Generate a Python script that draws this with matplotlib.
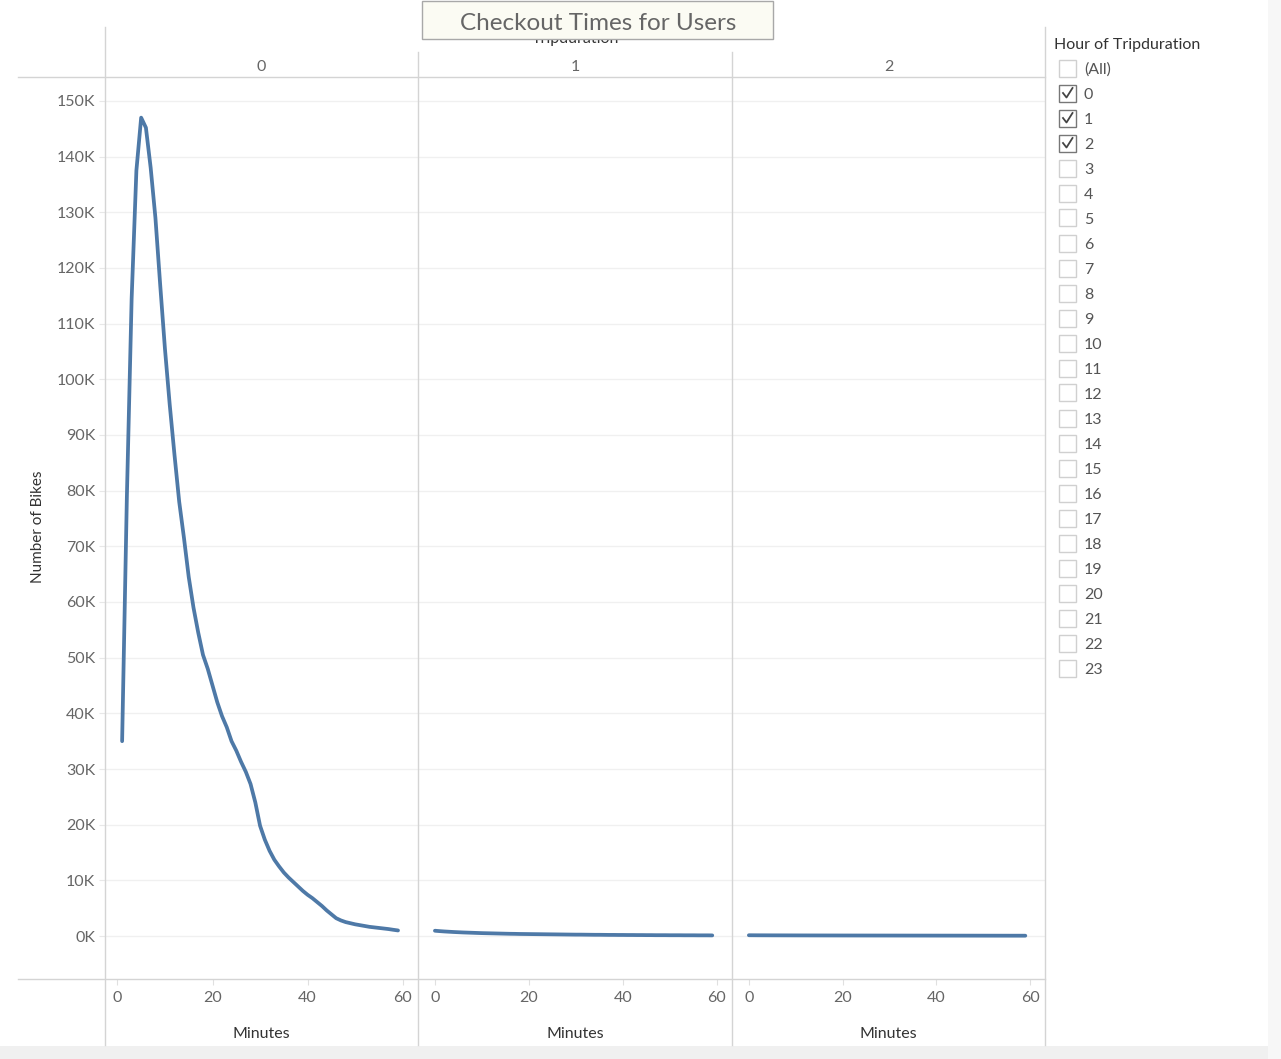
import matplotlib
matplotlib.use("Agg")
import matplotlib.pyplot as plt
from matplotlib.lines import Line2D
from matplotlib.patches import Rectangle
from matplotlib.ticker import FuncFormatter

plt.rcParams['font.family'] = ['Lato', 'DejaVu Sans']

# ---------------- data ----------------
panel_labels = ["0", "1", "2"]
minutes_h0 = list(range(1, 60))
bikes_h0 = [35000, 79000, 114500, 137500, 147000, 145200, 138000, 129000, 117000, 105500,
            95500, 86500, 78000, 71500, 64500, 59000, 54500, 50500, 48000, 45000,
            42000, 39500, 37500, 35000, 33300, 31300, 29500, 27300, 24000, 19800,
            17300, 15300, 13700, 12500, 11400, 10500, 9700, 8900, 8100, 7400,
            6800, 6100, 5400, 4600, 3900, 3200, 2800, 2500, 2300, 2100,
            1950, 1800, 1650, 1550, 1450, 1350, 1250, 1120, 1000]
minutes_h1 = list(range(0, 60))
bikes_h1 = [950, 880, 820, 770, 720, 680, 640, 610, 580, 550,
            520, 500, 480, 460, 440, 420, 400, 390, 370, 360,
            350, 340, 330, 320, 310, 300, 290, 280, 270, 260,
            250, 250, 240, 230, 220, 220, 210, 200, 200, 190,
            190, 180, 180, 170, 170, 160, 160, 150, 150, 150,
            140, 140, 140, 130, 130, 130, 120, 120, 120, 110]
minutes_h2 = list(range(0, 60))
bikes_h2 = [140, 135, 130, 128, 125, 122, 120, 118, 116, 114,
            112, 110, 108, 106, 105, 103, 102, 100, 99, 98,
            96, 95, 94, 93, 92, 91, 90, 89, 88, 87,
            86, 85, 84, 83, 82, 81, 80, 79, 78, 77,
            76, 75, 74, 73, 72, 71, 70, 69, 68, 67,
            66, 65, 64, 63, 62, 61, 60, 60, 59, 58]
series = [(minutes_h0, bikes_h0), (minutes_h1, bikes_h1), (minutes_h2, bikes_h2)]
x_ticks = [0, 20, 40, 60]
y_ticks = list(range(0, 150001, 10000))
legend_items = ["(All)"] + [str(h) for h in range(24)]
checked = {"0", "1", "2"}

# ---------------- layout ----------------
W, H = 1281, 1059
fig = plt.figure(figsize=(W / 100, H / 100), dpi=100)
fig.patch.set_facecolor("white")

def fx(x):
    return x / W

def fy(y):
    return 1 - y / H

def hline(y, x0, x1, color="#d4d4d4", lw=1.0, z=1):
    fig.add_artist(Line2D([fx(x0), fx(x1)], [fy(y), fy(y)], transform=fig.transFigure,
                          color=color, lw=lw, zorder=z))

def vline(x, y0, y1, color="#d4d4d4", lw=1.0, z=1):
    fig.add_artist(Line2D([fx(x), fx(x)], [fy(y0), fy(y1)], transform=fig.transFigure,
                          color=color, lw=lw, zorder=z))

lefts = [105, 418, 732]
rights = [418, 732, 1045]
xlims = [(-2.6, 63.2), (-3.6, 63.2), (-3.6, 63.2)]
top, bottom = 77, 979
tick_col = "#666666"
line_col = "#4e79a7"
dy = 2  # baseline correction for Lato

kfmt = FuncFormatter(lambda v, p: f"{v/1000:.0f}K")

for i, (l, r) in enumerate(zip(lefts, rights)):
    ax = fig.add_axes([fx(l), fy(bottom), (r - l) / W, (bottom - top) / H])
    ax.set_facecolor("none")
    for s in ax.spines.values():
        s.set_visible(False)
    ax.set_xlim(*xlims[i])
    ax.set_ylim(-7720, 154300)
    ax.set_yticks(y_ticks)
    ax.yaxis.set_major_formatter(kfmt)
    ax.set_xticks(x_ticks)
    ax.grid(axis="y", color="#f0f0f0", lw=1.0)
    ax.set_axisbelow(True)
    ax.tick_params(axis="x", length=4, color="#e0e0e0", labelcolor=tick_col,
                   labelsize=11.5, pad=5)
    if i == 0:
        ax.tick_params(axis="y", length=4, color="#e8e8e8", labelcolor=tick_col,
                       labelsize=11.5, pad=3)
    else:
        ax.tick_params(axis="y", length=0, labelleft=False)
    xs, ys = series[i]
    ax.plot(xs, ys, color=line_col, lw=2.7, solid_capstyle="round",
            solid_joinstyle="round", zorder=3)
    cx = (l + r) / 2
    fig.text(fx(cx), fy(1032 + dy), "Minutes", ha="center", va="center",
             fontsize=11.5, color="#333333")
    fig.text(fx(cx), fy(65 + dy), panel_labels[i], ha="center", va="center",
             fontsize=11.5, color=tick_col)

# frame lines
hline(77, 18, 1045)
hline(979, 18, 1045)
vline(105, 27, 1045)
vline(418, 52, 1045)
vline(732, 52, 1045)
vline(1045, 27, 1045)

# y axis title
fig.text(fx(38), fy(527), "Number of Bikes", rotation=90, ha="center", va="center",
         fontsize=11, color="#333333")

# column header title (partially covered by the title box)
fig.text(fx(575), fy(37 + dy), "Tripduration", ha="center", va="center",
         fontsize=11.5, color="#333333", zorder=2)

# title box
fig.add_artist(Rectangle((fx(422), fy(39)), (773 - 422) / W, (39 - 1) / H,
                         transform=fig.transFigure, facecolor="#fbfbf3",
                         edgecolor="#a8a8a8", lw=1.0, zorder=5))
fig.text(fx(598), fy(21 + dy), "Checkout Times for Users", ha="center", va="center",
         fontsize=17.5, color="#666666", zorder=6)

# legend (filter)
fig.text(fx(1054), fy(43 + dy), "Hour of Tripduration", ha="left", va="center",
         fontsize=11.5, color="#333333")
for j, lab in enumerate(legend_items):
    yc = 68 + 25 * j
    is_on = lab in checked
    fig.add_artist(Rectangle((fx(1059), fy(yc + 8.5)), 17 / W, 17 / H,
                             transform=fig.transFigure, facecolor="white",
                             edgecolor="#777777" if is_on else "#d0d0d0", lw=1.0))
    if is_on:
        fig.add_artist(Line2D([fx(1063), fx(1066.5), fx(1072.5)],
                              [fy(yc), fy(yc + 4.5), fy(yc - 5)],
                              transform=fig.transFigure, color="#444444", lw=1.3))
    fig.text(fx(1084), fy(yc + dy), lab, ha="left", va="center", fontsize=11.5,
             color="#555555")

# light grey page edges
fig.add_artist(Rectangle((0, 0), 1, 13 / H, transform=fig.transFigure,
                         facecolor="#f0f0f0", edgecolor="none", zorder=0))
fig.add_artist(Rectangle((fx(1268), 0), 13 / W, 1, transform=fig.transFigure,
                         facecolor="#f7f7f7", edgecolor="none", zorder=0))

fig.savefig("out.png", dpi=100)
